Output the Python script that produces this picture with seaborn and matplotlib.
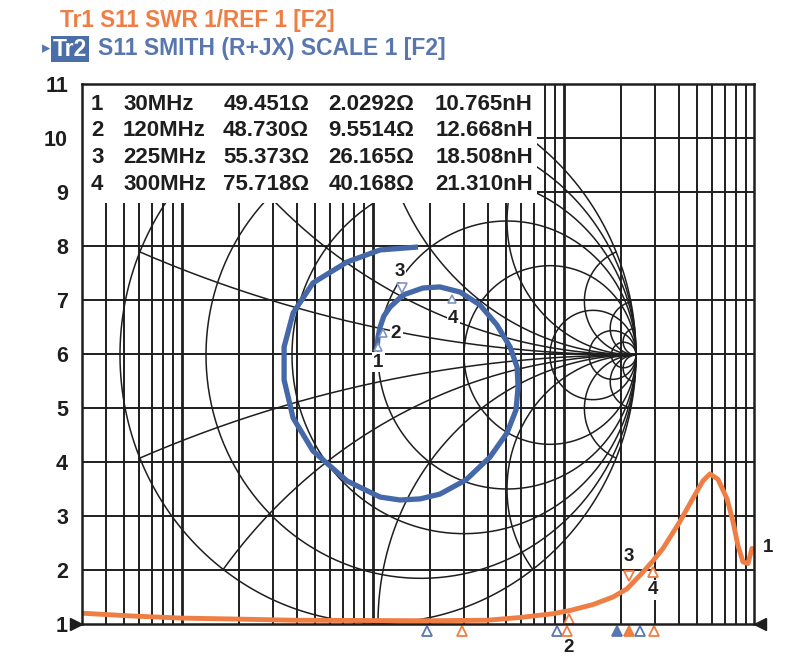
import numpy as np
import matplotlib
matplotlib.use("Agg")
import matplotlib.pyplot as plt
import seaborn as sns

# Tr1: SWR trace (stimulus on a log axis, SWR value)
swr_freq = [3.0, 5.35, 9.8, 20.2, 38.2, 85.6, 192, 396, 589, 876, 1077, 1420, 1809, 2139,
            2502, 2930, 3306, 4056, 4745, 5350, 5823, 6412, 7147, 7681, 8161, 8670, 9210, 9663]
swr_vals = [1.20, 1.15, 1.11, 1.09, 1.07, 1.065, 1.06, 1.07, 1.12, 1.19, 1.25, 1.36, 1.50, 1.65,
            1.90, 2.17, 2.40, 2.90, 3.33, 3.65, 3.78, 3.68, 3.32, 2.90, 2.45, 2.15, 2.12, 2.40]

# Tr2: S11 reflection coefficient (real / imag)
s11_re = [-0.004, 0.000, 0.008, 0.023, 0.047, 0.097, 0.174, 0.240, 0.318, 0.395, 0.461, 0.512,
          0.539, 0.543, 0.535, 0.500, 0.434, 0.341, 0.240, 0.163, 0.085, 0.008, -0.120, -0.252,
          -0.329, -0.364, -0.364, -0.329, -0.252, -0.120, 0.008, 0.155]
s11_im = [0.022, 0.067, 0.104, 0.146, 0.179, 0.224, 0.250, 0.254, 0.235, 0.187, 0.112, 0.030,
          -0.045, -0.119, -0.205, -0.291, -0.381, -0.466, -0.519, -0.537, -0.541, -0.530, -0.470,
          -0.358, -0.235, -0.093, 0.030, 0.157, 0.269, 0.347, 0.392, 0.403]

# marker table
mk_num = ["1", "2", "3", "4"]
mk_freq = ["30MHz", "120MHz", "225MHz", "300MHz"]
mk_res = ["49.451Ω", "48.730Ω", "55.373Ω", "75.718Ω"]
mk_reac = ["2.0292Ω", "9.5514Ω", "26.165Ω", "40.168Ω"]
mk_ind = ["10.765nH", "12.668nH", "18.508nH", "21.310nH"]

# markers on the smith trace
mk_s11_re = [0.000, 0.019, 0.093, 0.287]
mk_s11_im = [0.030, 0.082, 0.250, 0.209]

# markers on the SWR trace
swr_mk_freq = [1060, 2193, 2930]
swr_mk_vals = [1.09, 1.89, 1.96]

# marker flags under the stimulus axis
flag_tr2 = [192, 921, 1897, 2502]
flag_tr1 = [293, 1038, 2193, 2964]

smith_r = [0, 0.2, 0.5, 1, 2, 5, 10, 20]
smith_x = [0.2, 0.5, 1, 2, 5, 10, 20]

ORANGE = "#EF7E45"
BLUE = "#4568A8"
BLUE_TXT = "#5877AE"
INK = "#1E1E1E"

sns.set_style("white")
plt.rcParams["font.family"] = ["Liberation Sans", "DejaVu Sans"]
plt.rcParams["font.weight"] = "bold"

W, H = 801, 658
fig = plt.figure(figsize=(W / 100, H / 100), dpi=100)

L, R, T, B = 82, 754, 84, 624
pos = [L / W, 1 - B / H, (R - L) / W, (B - T) / H]

def fx(x):
    return x / W

def fy(y):
    return 1 - y / H

# smith chart geometry (centre and radii in pixels)
CX, CY, RX, RY = 378, 355, 258, 268
smith_xlim = (-(CX - L) / RX, (R - CX) / RX)
smith_ylim = (-(B - CY) / RY, (CY - T) / RY)

# bottom layer: smith grid
ax_bg = fig.add_axes(pos)
ax_bg.set_xlim(*smith_xlim)
ax_bg.set_ylim(*smith_ylim)
ax_bg.axis("off")
t = np.linspace(0, 2 * np.pi, 500)
for r in smith_r:
    c, rad = r / (1 + r), 1 / (1 + r)
    ax_bg.plot(c + rad * np.cos(t), rad * np.sin(t), color=INK, lw=1.1)
rr = np.concatenate([[0], np.logspace(-3, 4, 800)])
for xv in smith_x:
    for s in (1, -1):
        z = rr + 1j * s * xv
        g = (z - 1) / (z + 1)
        ax_bg.plot(g.real, g.imag, color=INK, lw=1.1)

# middle layer: rectangular grid, table, SWR trace
ax = fig.add_axes(pos)
ax.patch.set_alpha(0)
ax.set_xscale("log")
ax.set_xlim(3, 9900)
ax.set_ylim(1, 11)
for dec in [1, 10, 100, 1000]:
    for k in range(1, 10):
        v = k * dec
        if 3 < v < 9900:
            ax.axvline(v, color=INK, lw=2.0 if k == 1 else 1.4, zorder=1)
for yv in range(2, 11):
    ax.axhline(yv, color=INK, lw=1.4, zorder=1)

ax.add_patch(plt.Rectangle((0.002, 0.78), 0.675, 0.218, transform=ax.transAxes,
                           facecolor="white", edgecolor="none", zorder=3))

sns.lineplot(x=swr_freq, y=swr_vals, ax=ax, color=ORANGE, lw=3.5, zorder=5,
             sort=False, estimator=None, solid_joinstyle="round")
ax.plot(swr_mk_freq[0], swr_mk_vals[0], marker="^", ms=7, mfc="white", mec=ORANGE, mew=1.3, zorder=6)
ax.plot(swr_mk_freq[1], swr_mk_vals[1], marker="v", ms=7, mfc="white", mec=ORANGE, mew=1.3, zorder=6)
ax.plot(swr_mk_freq[2], swr_mk_vals[2], marker="^", ms=7, mfc="white", mec=ORANGE, mew=1.3, zorder=6)

flag_y = 0.87
for i, f in enumerate(flag_tr2):
    ax.plot(f, flag_y, marker="^", ms=7, mfc=BLUE_TXT if i == 2 else "white",
            mec=BLUE_TXT, mew=1.3, clip_on=False, zorder=6)
for i, f in enumerate(flag_tr1):
    ax.plot(f, flag_y, marker="^", ms=7, mfc=ORANGE if i == 2 else "white",
            mec=ORANGE, mew=1.3, clip_on=False, zorder=6)
ax.plot(2.78, 1, marker=">", ms=8, color=INK, clip_on=False, zorder=6)
ax.plot(10600, 1, marker="<", ms=8, color=INK, clip_on=False, zorder=6)

lab = dict(fontsize=13.5, fontweight="bold", color=INK, ha="center", va="center", zorder=7)
box = dict(facecolor="white", edgecolor="none", pad=1.0)
ax.text(1060, 0.57, "2", clip_on=False, **lab)
ax.text(2193, 2.25, "3", bbox=box, **lab)
ax.text(2930, 1.63, "4", bbox=box, **lab)
ax.text(11800, 2.41, "1", clip_on=False, **lab)

ax.set_yticks(range(1, 12))
ax.set_yticklabels([str(v) for v in range(1, 12)], fontsize=15.5, fontweight="bold", color=INK)
ax.set_xticks([])
ax.minorticks_off()
ax.set_xticks([], minor=True)
ax.tick_params(axis="y", length=0, pad=10)
for sp in ax.spines.values():
    sp.set_color(INK)
    sp.set_linewidth(1.8)
    sp.set_zorder(8)

# top layer: smith trace
ax_top = fig.add_axes(pos)
ax_top.patch.set_alpha(0)
ax_top.set_xlim(*smith_xlim)
ax_top.set_ylim(*smith_ylim)
ax_top.axis("off")
sns.lineplot(x=s11_re, y=s11_im, ax=ax_top, color=BLUE, lw=3.8, sort=False,
             estimator=None, solid_capstyle="butt", solid_joinstyle="round")
mk_edge = "#8095C0"
ax_top.plot(mk_s11_re[0], mk_s11_im[0], marker="^", ms=6, mfc="white", mec=mk_edge, mew=1.2)
ax_top.plot(mk_s11_re[1], mk_s11_im[1], marker="^", ms=6, mfc="white", mec=mk_edge, mew=1.2)
ax_top.plot(mk_s11_re[2], mk_s11_im[2], marker="v", ms=7, mfc="white", mec=mk_edge, mew=1.2)
ax_top.plot(mk_s11_re[3], mk_s11_im[3], marker="^", ms=6, mfc="white", mec=mk_edge, mew=1.2)
ax_top.text(0.0, -0.027, "1", bbox=box, **lab)
ax_top.text(0.07, 0.082, "2", bbox=box, **lab)
ax_top.text(0.085, 0.31, "3", bbox=box, **lab)
ax_top.text(0.291, 0.135, "4", bbox=box, **lab)

# marker table
rows_y = [104, 131, 158, 185]
tab = dict(fontsize=16, fontweight="bold", color=INK, va="center")
for i in range(4):
    fig.text(fx(91), fy(rows_y[i]), mk_num[i], ha="left", **tab)
    fig.text(fx(123), fy(rows_y[i]), mk_freq[i], ha="left", **tab)
    fig.text(fx(309), fy(rows_y[i]), mk_res[i], ha="right", **tab)
    fig.text(fx(414), fy(rows_y[i]), mk_reac[i], ha="right", **tab)
    fig.text(fx(533), fy(rows_y[i]), mk_ind[i], ha="right", **tab)

# trace headers
fig.text(fx(60), fy(20), "Tr1 S11 SWR 1/REF 1 [F2]", fontsize=16.3, fontweight="bold",
         color=ORANGE, va="center", ha="left")
fig.text(fx(42), fy(49), "▸", fontsize=12, color=BLUE_TXT, va="center", ha="left")
fig.text(fx(53), fy(49), "Tr2", fontsize=16.5, fontweight="bold", color="white", va="center",
         ha="left", bbox=dict(facecolor="#4C6EA8", edgecolor="none", pad=1.2))
fig.text(fx(98), fy(49), "S11 SMITH (R+JX) SCALE 1 [F2]", fontsize=16.5, fontweight="bold",
         color=BLUE_TXT, va="center", ha="left")

fig.savefig("out.png", dpi=100, facecolor="white")
